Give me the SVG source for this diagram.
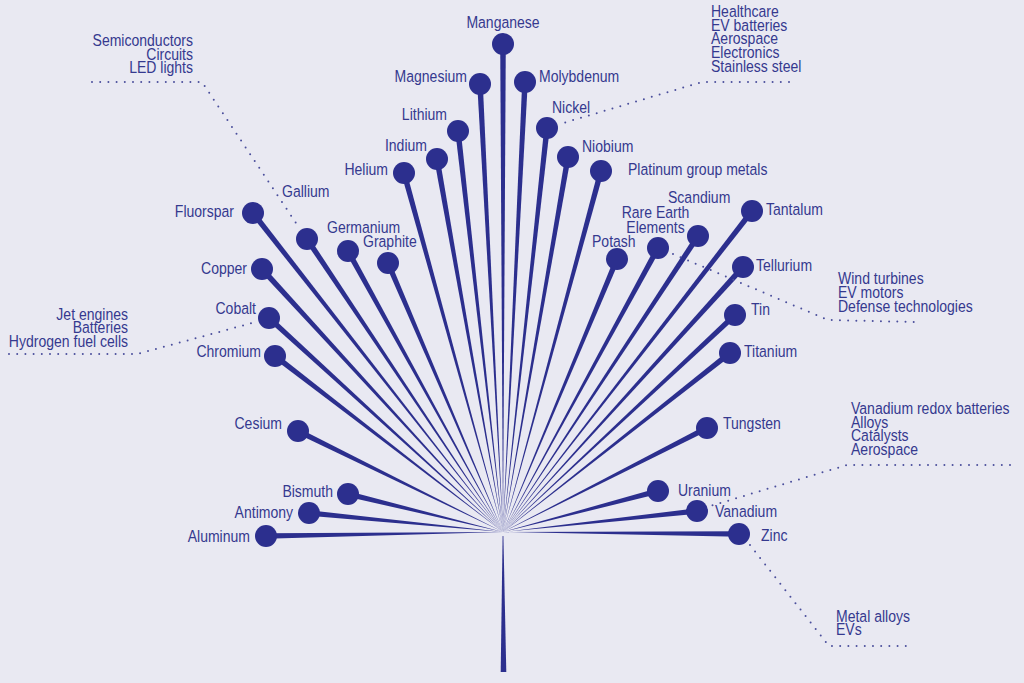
<svg xmlns="http://www.w3.org/2000/svg" width="1024" height="683" viewBox="0 0 1024 683">
<style>
.bg{fill:#e9e9f2}
.stem{fill:#2c2f8e}
.dot{fill:#2c2f8e}
.lead{fill:none;stroke:#4b4f9c;stroke-width:2;stroke-dasharray:0 8.2;stroke-linecap:round}
text{font-family:"Liberation Sans",Arial,sans-serif;font-size:16.5px;fill:#35398f}
.e{text-anchor:end}
.m{text-anchor:middle}
</style>
<rect class="bg" x="0" y="0" width="1024" height="683"/>
<g id="connectors">
<polygon class="stem" points="503,532 505.8,44 500.2,44"/>
<polygon class="stem" points="503,532 482.8,83.86 477.2,84.14"/>
<polygon class="stem" points="503,532 527.8,82.14 522.2,81.86"/>
<polygon class="stem" points="503,532 460.78,130.69 455.22,131.31"/>
<polygon class="stem" points="503,532 549.78,128.3 544.22,127.7"/>
<polygon class="stem" points="503,532 439.76,158.51 434.24,159.49"/>
<polygon class="stem" points="503,532 570.76,157.48 565.24,156.52"/>
<polygon class="stem" points="503,532 406.7,172.26 401.3,173.74"/>
<polygon class="stem" points="503,532 603.7,171.73 598.3,170.27"/>
<polygon class="stem" points="503,532 255.2,211.27 250.8,214.73"/>
<polygon class="stem" points="503,532 309.33,237.44 304.67,240.56"/>
<polygon class="stem" points="503,532 350.45,249.65 345.55,252.35"/>
<polygon class="stem" points="503,532 390.57,261.9 385.43,264.1"/>
<polygon class="stem" points="503,532 264.07,267.11 259.93,270.89"/>
<polygon class="stem" points="503,532 270.89,315.93 267.11,320.07"/>
<polygon class="stem" points="503,532 276.71,353.78 273.29,358.22"/>
<polygon class="stem" points="503,532 299.24,428.49 296.76,433.51"/>
<polygon class="stem" points="503,532 348.67,491.28 347.33,496.72"/>
<polygon class="stem" points="503,532 309.27,510.21 308.73,515.79"/>
<polygon class="stem" points="503,532 265.95,533.2 266.05,538.8"/>
<polygon class="stem" points="503,532 619.58,260.08 614.42,257.92"/>
<polygon class="stem" points="503,532 660.46,249.34 655.54,246.66"/>
<polygon class="stem" points="503,532 700.34,237.54 695.66,234.46"/>
<polygon class="stem" points="503,532 754.21,212.72 749.79,209.28"/>
<polygon class="stem" points="503,532 745.08,268.88 740.92,265.12"/>
<polygon class="stem" points="503,532 736.91,317.04 733.09,312.96"/>
<polygon class="stem" points="503,532 731.73,355.2 728.27,350.8"/>
<polygon class="stem" points="503,532 708.27,430.49 705.73,425.51"/>
<polygon class="stem" points="503,532 658.72,493.71 657.28,488.29"/>
<polygon class="stem" points="503,532 697.3,513.78 696.7,508.22"/>
<polygon class="stem" points="503,532 738.98,536.8 739.02,531.2"/>
<polygon class="stem" points="502.6,536 503.4,536 506.3,672 500.7,672"/>
</g>
<g id="leaders">
<polyline class="lead" points="92,82 202,82 298,226"/>
<polyline class="lead" points="789,82 702,82 560,124"/>
<polyline class="lead" points="9,354 137,354 256,322"/>
<polyline class="lead" points="673,254 828,320 915,322"/>
<polyline class="lead" points="1010,465 847,465 707,507"/>
<polyline class="lead" points="750,545 829,646 913,646"/>
</g>
<g id="n-manganese"><circle class="dot" cx="503" cy="44" r="11"/><text class="m" transform="translate(503 28) scale(.85 1)">Manganese</text></g>
<g id="n-magnesium"><circle class="dot" cx="480" cy="84" r="11"/><text class="e" transform="translate(467 82) scale(.85 1)">Magnesium</text></g>
<g id="n-molybdenum"><circle class="dot" cx="525" cy="82" r="11"/><text transform="translate(539 82) scale(.85 1)">Molybdenum</text></g>
<g id="n-lithium"><circle class="dot" cx="458" cy="131" r="11"/><text class="e" transform="translate(447 120) scale(.85 1)">Lithium</text></g>
<g id="n-nickel"><circle class="dot" cx="547" cy="128" r="11"/><text transform="translate(552 113) scale(.85 1)">Nickel</text></g>
<g id="n-indium"><circle class="dot" cx="437" cy="159" r="11"/><text class="e" transform="translate(427 151) scale(.85 1)">Indium</text></g>
<g id="n-niobium"><circle class="dot" cx="568" cy="157" r="11"/><text transform="translate(582 152) scale(.85 1)">Niobium</text></g>
<g id="n-helium"><circle class="dot" cx="404" cy="173" r="11"/><text class="e" transform="translate(388 175) scale(.85 1)">Helium</text></g>
<g id="n-platinum"><circle class="dot" cx="601" cy="171" r="11"/><text transform="translate(628 175) scale(.85 1)">Platinum group metals</text></g>
<g id="n-fluorspar"><circle class="dot" cx="253" cy="213" r="11"/><text class="e" transform="translate(234 217) scale(.85 1)">Fluorspar</text></g>
<g id="n-gallium"><circle class="dot" cx="307" cy="239" r="11"/><text transform="translate(282 197) scale(.85 1)">Gallium</text></g>
<g id="n-germanium"><circle class="dot" cx="348" cy="251" r="11"/><text transform="translate(327 233) scale(.85 1)">Germanium</text></g>
<g id="n-graphite"><circle class="dot" cx="388" cy="263" r="11"/><text transform="translate(363 247) scale(.85 1)">Graphite</text></g>
<g id="n-copper"><circle class="dot" cx="262" cy="269" r="11"/><text class="e" transform="translate(247 274) scale(.85 1)">Copper</text></g>
<g id="n-cobalt"><circle class="dot" cx="269" cy="318" r="11"/><text class="e" transform="translate(256 314) scale(.85 1)">Cobalt</text></g>
<g id="n-chromium"><circle class="dot" cx="275" cy="356" r="11"/><text class="e" transform="translate(261 357) scale(.85 1)">Chromium</text></g>
<g id="n-cesium"><circle class="dot" cx="298" cy="431" r="11"/><text class="e" transform="translate(282 429) scale(.85 1)">Cesium</text></g>
<g id="n-bismuth"><circle class="dot" cx="348" cy="494" r="11"/><text class="e" transform="translate(333 497) scale(.85 1)">Bismuth</text></g>
<g id="n-antimony"><circle class="dot" cx="309" cy="513" r="11"/><text class="e" transform="translate(293 518) scale(.85 1)">Antimony</text></g>
<g id="n-aluminum"><circle class="dot" cx="266" cy="536" r="11"/><text class="e" transform="translate(250 542) scale(.85 1)">Aluminum</text></g>
<g id="n-potash"><circle class="dot" cx="617" cy="259" r="11"/><text transform="translate(592 247) scale(.85 1)">Potash</text></g>
<g id="n-rare-earth"><circle class="dot" cx="658" cy="248" r="11"/><text class="m" transform="translate(655.5 218) scale(.85 1)">Rare Earth</text><text class="m" transform="translate(655.5 232.5) scale(.85 1)">Elements</text></g>
<g id="n-scandium"><circle class="dot" cx="698" cy="236" r="11"/><text transform="translate(668 203) scale(.85 1)">Scandium</text></g>
<g id="n-tantalum"><circle class="dot" cx="752" cy="211" r="11"/><text transform="translate(766 215) scale(.85 1)">Tantalum</text></g>
<g id="n-tellurium"><circle class="dot" cx="743" cy="267" r="11"/><text transform="translate(756 271) scale(.85 1)">Tellurium</text></g>
<g id="n-tin"><circle class="dot" cx="735" cy="315" r="11"/><text transform="translate(751 315) scale(.85 1)">Tin</text></g>
<g id="n-titanium"><circle class="dot" cx="730" cy="353" r="11"/><text transform="translate(744 357) scale(.85 1)">Titanium</text></g>
<g id="n-tungsten"><circle class="dot" cx="707" cy="428" r="11"/><text transform="translate(723 429) scale(.85 1)">Tungsten</text></g>
<g id="n-uranium"><circle class="dot" cx="658" cy="491" r="11"/><text transform="translate(678 496) scale(.85 1)">Uranium</text></g>
<g id="n-vanadium"><circle class="dot" cx="697" cy="511" r="11"/><text transform="translate(715 517) scale(.85 1)">Vanadium</text></g>
<g id="n-zinc"><circle class="dot" cx="739" cy="534" r="11"/><text transform="translate(761 541) scale(.85 1)">Zinc</text></g>
<g id="note-gallium">
<text class="e" transform="translate(193 46) scale(.85 1)">Semiconductors</text>
<text class="e" transform="translate(193 59.5) scale(.85 1)">Circuits</text>
<text class="e" transform="translate(193 73) scale(.85 1)">LED lights</text>
</g>
<g id="note-nickel">
<text transform="translate(711 17) scale(.85 1)">Healthcare</text>
<text transform="translate(711 30.5) scale(.85 1)">EV batteries</text>
<text transform="translate(711 44) scale(.85 1)">Aerospace</text>
<text transform="translate(711 58) scale(.85 1)">Electronics</text>
<text transform="translate(711 72) scale(.85 1)">Stainless steel</text>
</g>
<g id="note-cobalt">
<text class="e" transform="translate(128 319.5) scale(.85 1)">Jet engines</text>
<text class="e" transform="translate(128 333) scale(.85 1)">Batteries</text>
<text class="e" transform="translate(128 347) scale(.85 1)">Hydrogen fuel cells</text>
</g>
<g id="note-rare-earth">
<text transform="translate(838 284) scale(.85 1)">Wind turbines</text>
<text transform="translate(838 298) scale(.85 1)">EV motors</text>
<text transform="translate(838 312) scale(.85 1)">Defense technologies</text>
</g>
<g id="note-vanadium">
<text transform="translate(851 414) scale(.85 1)">Vanadium redox batteries</text>
<text transform="translate(851 427.5) scale(.85 1)">Alloys</text>
<text transform="translate(851 441) scale(.85 1)">Catalysts</text>
<text transform="translate(851 455) scale(.85 1)">Aerospace</text>
</g>
<g id="note-zinc">
<text transform="translate(836 622) scale(.85 1)">Metal alloys</text>
<text transform="translate(836 635) scale(.85 1)">EVs</text>
</g>
</svg>
